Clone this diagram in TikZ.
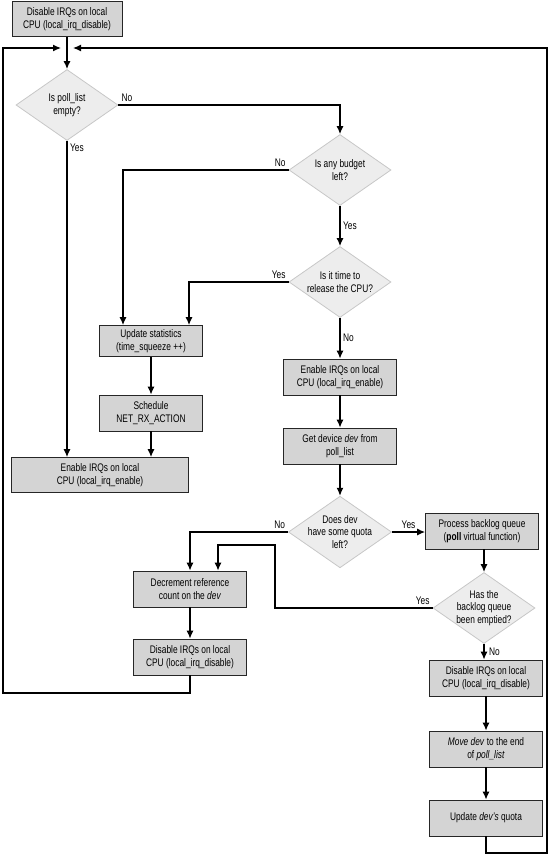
\documentclass[tikz,border=0pt]{standalone}
\usepackage{fontspec}
\setmainfont{Liberation Sans}[FakeStretch=0.76]
\usetikzlibrary{arrows.meta,shapes.geometric,positioning}

\begin{document}
\begin{tikzpicture}[x=1pt,y=-1pt,on grid,
    >={Latex[length=8pt,width=7pt]},
    flow/.style={draw,line width=1.2pt,->},
    box/.style={draw=black!85,fill=black!17,line width=0.8pt,minimum width=113pt,
        minimum height=36pt,align=center,inner sep=1pt,
        font=\fontsize{11}{13}\selectfont},
    test/.style={diamond,draw=black!22,fill=black!7,line width=0.8pt,
        minimum width=102pt,minimum height=71pt,inner sep=0pt,aspect=1.44,
        align=center,font=\fontsize{11}{12.5}\selectfont},
    lbl/.style={font=\fontsize{11}{12}\selectfont,inner sep=2.5pt}]
    \useasboundingbox (0,0) rectangle (550,856);
    % left column
    \node[box,minimum width=110pt,minimum height=35pt] (irqoff) at (67,19)
        {Disable IRQs on local\\CPU (local\_irq\_disable)};
    \node[test] (empty) at (67,105) {Is poll\_list\\empty?};
    \node[box,minimum width=103pt,minimum height=31pt] (stats) at (151,341)
        {Update statistics\\(time\_squeeze ++)};
    \node[box,minimum width=103pt,below=72pt of stats] (sched)
        {Schedule\\NET\_RX\_ACTION};
    \node[box,minimum width=177pt,minimum height=35pt] (irqon1) at (100,475)
        {Enable IRQs on local\\CPU (local\_irq\_enable)};
    \node[box] (decref) at (190,589) {Decrement reference\\count on the \textit{dev}};
    \node[box,below=68pt of decref] (irqoff1)
        {Disable IRQs on local\\CPU (local\_irq\_disable)};
    % middle column
    \node[test] (budget) at (340,170) {Is any budget\\left?};
    \node[test,below=112pt of budget] (release) {Is it time to\\release the CPU?};
    \node[box,below=95pt of release] (irqon2)
        {Enable IRQs on local\\CPU (local\_irq\_enable)};
    \node[box,below=69pt of irqon2] (getdev) {Get device \textit{dev} from\\poll\_list};
    \node[test,inner ysep=-3pt,below=86pt of getdev] (quota)
        {Does dev\\have some quota\\left?};
    % right column
    \node[box] (backlog) at (482,531)
        {Process backlog queue\\(\textbf{poll} virtual function)};
    \node[test,inner ysep=-2pt] (emptied) at (484,608)
        {Has the\\backlog queue\\been emptied?};
    \node[box,below=70pt of emptied,xshift=2pt] (irqoff2)
        {Disable IRQs on local\\CPU (local\_irq\_disable)};
    \node[box,below=71pt of irqoff2] (movedev)
        {\textit{Move dev} to the end\\of \textit{poll\_list}};
    \node[box,below=69pt of movedev] (quotaupd) {Update \textit{dev's} quota};

    \coordinate (top) at (67,48);
    \coordinate (lcorner) at (3,693);
    \coordinate (rcorner) at (547,853);
    \coordinate (back) at (275,545);

    \draw[flow] (irqoff) -- (empty);
    \draw[flow] (empty.east) node[lbl,above right] {No} -| (budget.north);
    \draw[flow] (empty.south) node[lbl,below right] {Yes} -- (empty.south |- irqon1.north);
    \draw[flow] (budget.west) node[lbl,above left] {No} -| ([xshift=-28pt]stats.north);
    \draw[flow] (budget) -- node[lbl,right] {Yes} (release);
    \draw[flow] (release.west) node[lbl,above left] {Yes} -| ([xshift=38pt]stats.north);
    \draw[flow] (release) -- node[lbl,right] {No} (irqon2);
    \draw[flow] (stats) -- (sched);
    \draw[flow] (sched) -- (sched |- irqon1.north);
    \draw[flow] (irqon2) -- (getdev);
    \draw[flow] (getdev) -- (quota);
    \draw[flow] (quota.west) node[lbl,above left] {No} -| (decref.north);
    \draw[flow] (quota.east) -- node[lbl,above] {Yes} (quota.east -| backlog.west);
    \draw[flow] (emptied.north |- backlog.south) -- (emptied.north);
    \draw[flow] (emptied.west) node[lbl,above left] {Yes} -| (back) -| ([xshift=28pt]decref.north);
    \draw[flow] (emptied) -- node[lbl,right,xshift=2pt] {No} (emptied |- irqoff2.north);
    \draw[flow] (irqoff2) -- (movedev);
    \draw[flow] (movedev) -- (quotaupd);
    \draw[flow] (decref) -- (irqoff1);
    % loops back to the top
    \draw[flow] (irqoff1.south) |- (lcorner) |- ([xshift=-6pt]top);
    \draw[flow] (quotaupd.south) |- (rcorner) |- ([xshift=6pt]top);
\end{tikzpicture}
\end{document}
